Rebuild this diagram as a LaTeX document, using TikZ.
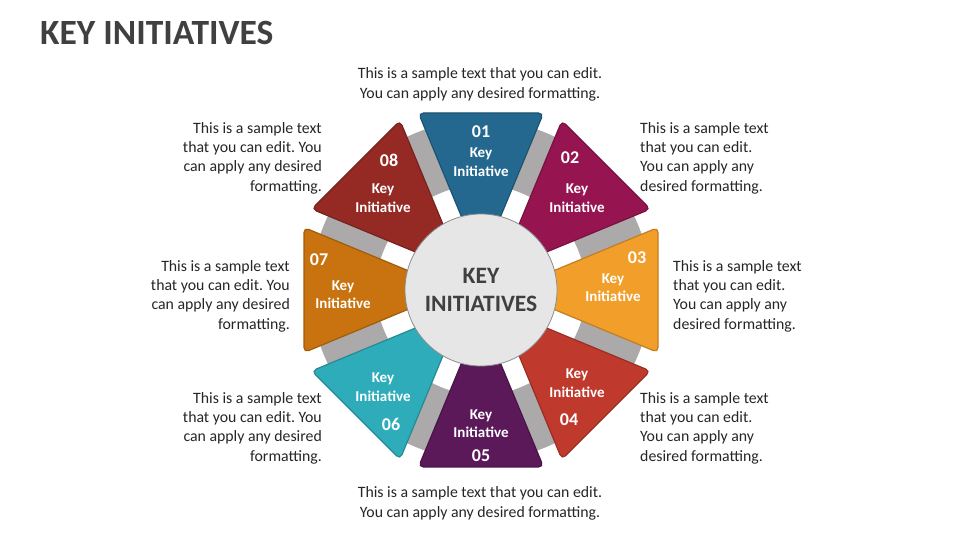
\documentclass[tikz,border=0pt]{standalone}
\usepackage{fontspec}
\setmainfont{Carlito}
\frenchspacing
\definecolor{titlegray}{RGB}{64,64,64}
\definecolor{ringgray}{RGB}{171,169,169}
\definecolor{hubfill}{RGB}{230,230,230}
\definecolor{segone}{RGB}{36,104,143}
\definecolor{segtwo}{RGB}{150,21,81}
\definecolor{segthree}{RGB}{242,158,42}
\definecolor{segfour}{RGB}{192,57,45}
\definecolor{segfive}{RGB}{91,25,90}
\definecolor{segsix}{RGB}{46,172,185}
\definecolor{segseven}{RGB}{200,115,15}
\definecolor{segeight}{RGB}{149,42,36}
\tikzset{
  seg/.style={line width=1.2pt, rounded corners=5pt},
  segnum/.style={text=white, font=\fontsize{18}{20}\selectfont\bfseries, inner sep=0pt},
  seglabel/.style={text=white, align=center, font=\fontsize{15}{18.5}\selectfont\bfseries, inner sep=0pt},
  sample/.style={text=black!85, font=\fontsize{15.8}{19.3}\selectfont, inner sep=0pt}
}
% one trapezoid of the octagon, turned round the centre
\newcommand{\keyseg}[2]{%
  \filldraw[seg, fill=#2, draw=#2!80!black, rotate around={#1:(481,250)}]
    (467,310) -- (418.5,427) -- (543.5,427) -- (495,310) -- cycle;}
\begin{document}
\begin{tikzpicture}[x=1pt, y=1pt]
\useasboundingbox[fill=white] (0,0) rectangle (960,540);

% Title
\node[anchor=base west, inner sep=0pt, text=titlegray, font=\fontsize{35.5}{40}\selectfont\bfseries] (title) at (40,495) {KEY INITIATIVES};

% Grey ring behind the segments
\fill[ringgray, even odd rule] (481,250) circle (170) (481,250) circle (105);

% The eight segments
\keyseg{0}{segone}
\keyseg{-45}{segtwo}
\keyseg{-90}{segthree}
\keyseg{-135}{segfour}
\keyseg{180}{segfive}
\keyseg{135}{segsix}
\keyseg{90}{segseven}
\keyseg{45}{segeight}

% Centre disc
\node[circle, minimum size=152pt, fill=hubfill, draw=black!45, line width=0.8pt, align=center, text=titlegray, font=\fontsize{23.5}{28}\selectfont\bfseries] (hub) at (481,250) {KEY\\INITIATIVES};

% Numbers and labels
\node[segnum] (n01) at (481,408) {01};
\node[seglabel] (k01) at (481,378) {Key\\Initiative};
\node[segnum] (n02) at (570,382) {02};
\node[seglabel] (k02) at (577,342) {Key\\Initiative};
\node[segnum] (n03) at (637,282) {03};
\node[seglabel] (k03) at (613,252.5) {Key\\Initiative};
\node[seglabel] (k04) at (577,157) {Key\\Initiative};
\node[segnum] (n04) at (569,120) {04};
\node[seglabel] (k05) at (481,116.5) {Key\\Initiative};
\node[segnum] (n05) at (481,84) {05};
\node[seglabel] (k06) at (383,153) {Key\\Initiative};
\node[segnum] (n06) at (391,116) {06};
\node[segnum] (n07) at (319,280) {07};
\node[seglabel] (k07) at (343,245.5) {Key\\Initiative};
\node[segnum] (n08) at (389,380) {08};
\node[seglabel] (k08) at (383,342) {Key\\Initiative};

% Sample texts
\node[sample, align=center] (t01) at (480,455.5) {This is a sample text that you can edit.\\You can apply any desired formatting.};
\node[sample, align=left, anchor=west] (t02) at (640,382) {This is a sample text\\that you can edit.\\You can apply any\\desired formatting.};
\node[sample, align=left, anchor=west] (t03) at (673,244) {This is a sample text\\that you can edit.\\You can apply any\\desired formatting.};
\node[sample, align=left, anchor=west] (t04) at (640,112) {This is a sample text\\that you can edit.\\You can apply any\\desired formatting.};
\node[sample, align=center] (t05) at (480,36.5) {This is a sample text that you can edit.\\You can apply any desired formatting.};
\node[sample, align=right, anchor=east] (t06) at (322,112) {This is a sample text\\that you can edit. You\\can apply any desired\\formatting.};
\node[sample, align=right, anchor=east] (t07) at (290,244) {This is a sample text\\that you can edit. You\\can apply any desired\\formatting.};
\node[sample, align=right, anchor=east] (t08) at (322,382) {This is a sample text\\that you can edit. You\\can apply any desired\\formatting.};
\end{tikzpicture}
\end{document}
